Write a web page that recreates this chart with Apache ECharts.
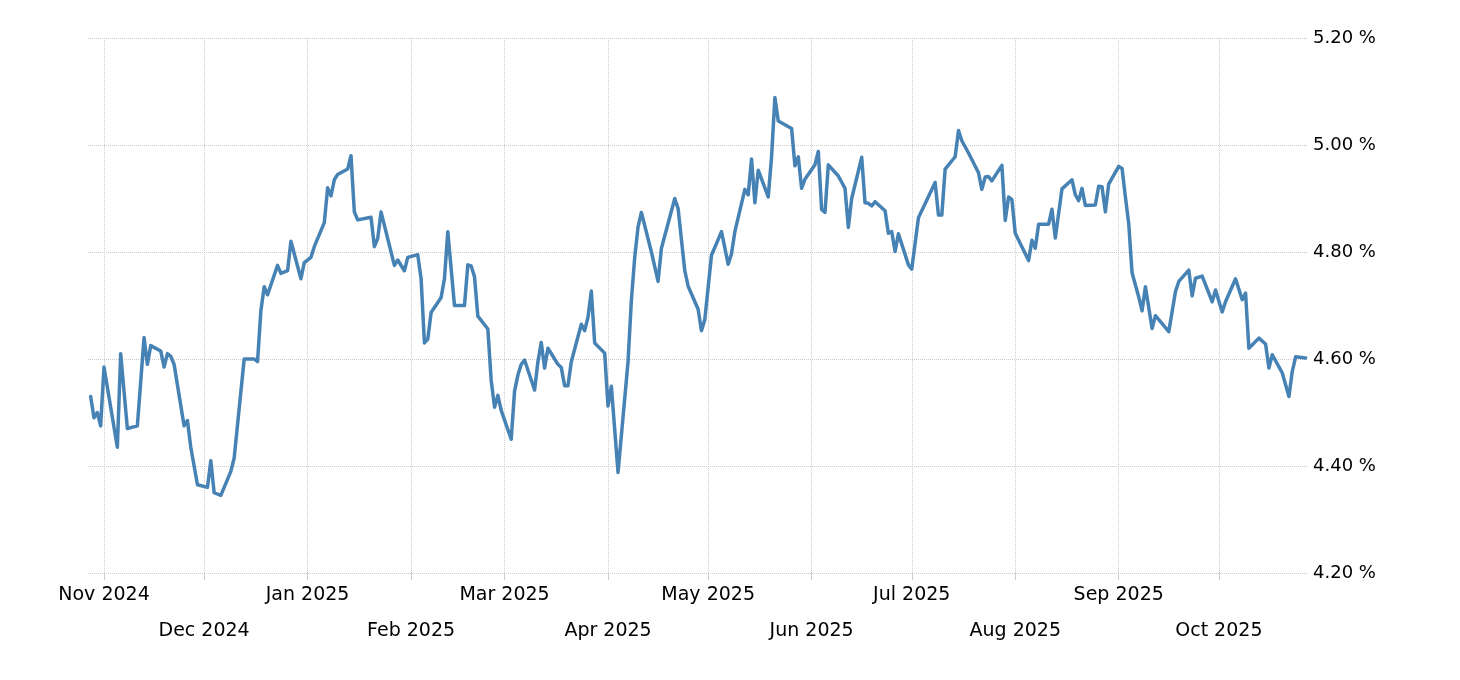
<!DOCTYPE html>
<html>
<head>
<meta charset="utf-8">
<script src="https://cdn.jsdelivr.net/npm/echarts@6/dist/echarts.min.js"></script>
<style>
html,body{margin:0;padding:0;background:#fff;}
#chart{width:1460px;height:680px;}
</style>
</head>
<body>
<div id="chart"></div>
<script>
const dates = [
'2024-10-28','2024-10-29','2024-10-30','2024-10-31','2024-11-01','2024-11-05','2024-11-06','2024-11-08','2024-11-11','2024-11-13',
'2024-11-14','2024-11-15','2024-11-18','2024-11-19','2024-11-20','2024-11-21','2024-11-22','2024-11-25','2024-11-26','2024-11-27',
'2024-11-29','2024-12-02','2024-12-03','2024-12-04','2024-12-06','2024-12-09','2024-12-10','2024-12-13','2024-12-16','2024-12-17',
'2024-12-18','2024-12-19','2024-12-20','2024-12-23','2024-12-24','2024-12-26','2024-12-27','2024-12-30','2024-12-31','2025-01-02',
'2025-01-03','2025-01-06','2025-01-07','2025-01-08','2025-01-09','2025-01-10','2025-01-13','2025-01-14','2025-01-15','2025-01-16',
'2025-01-20','2025-01-21','2025-01-22','2025-01-23','2025-01-27','2025-01-28','2025-01-30','2025-01-31','2025-02-03','2025-02-04',
'2025-02-05','2025-02-06','2025-02-07','2025-02-10','2025-02-11','2025-02-12','2025-02-14','2025-02-17','2025-02-18','2025-02-19',
'2025-02-20','2025-02-21','2025-02-24','2025-02-25','2025-02-26','2025-02-27','2025-02-28','2025-03-03','2025-03-04','2025-03-05',
'2025-03-06','2025-03-07','2025-03-10','2025-03-11','2025-03-12','2025-03-13','2025-03-14','2025-03-17','2025-03-18','2025-03-19',
'2025-03-20','2025-03-21','2025-03-24','2025-03-25','2025-03-26','2025-03-27','2025-03-28','2025-03-31','2025-04-01','2025-04-02',
'2025-04-04','2025-04-07','2025-04-08','2025-04-09','2025-04-10','2025-04-11','2025-04-14','2025-04-16','2025-04-17','2025-04-21',
'2025-04-22','2025-04-24','2025-04-25','2025-04-28','2025-04-29','2025-04-30','2025-05-02','2025-05-05','2025-05-07','2025-05-08',
'2025-05-09','2025-05-12','2025-05-13','2025-05-14','2025-05-15','2025-05-16','2025-05-19','2025-05-20','2025-05-21','2025-05-22',
'2025-05-26','2025-05-27','2025-05-28','2025-05-29','2025-05-30','2025-06-02','2025-06-03','2025-06-04','2025-06-05','2025-06-06',
'2025-06-09','2025-06-11','2025-06-12','2025-06-13','2025-06-16','2025-06-17','2025-06-18','2025-06-19','2025-06-20','2025-06-23',
'2025-06-24','2025-06-25','2025-06-26','2025-06-27','2025-06-30','2025-07-01','2025-07-03','2025-07-08','2025-07-09','2025-07-10',
'2025-07-11','2025-07-14','2025-07-15','2025-07-16','2025-07-18','2025-07-21','2025-07-22','2025-07-23','2025-07-24','2025-07-25',
'2025-07-28','2025-07-29','2025-07-30','2025-07-31','2025-08-01','2025-08-05','2025-08-06','2025-08-07','2025-08-08','2025-08-11',
'2025-08-12','2025-08-13','2025-08-15','2025-08-18','2025-08-19','2025-08-20','2025-08-21','2025-08-22','2025-08-25','2025-08-26',
'2025-08-27','2025-08-28','2025-08-29','2025-09-01','2025-09-02','2025-09-03','2025-09-04','2025-09-05','2025-09-07','2025-09-08',
'2025-09-09','2025-09-11','2025-09-12','2025-09-16','2025-09-18','2025-09-19','2025-09-22','2025-09-23','2025-09-24','2025-09-26',
'2025-09-29','2025-09-30','2025-10-02','2025-10-03','2025-10-06','2025-10-08','2025-10-09','2025-10-10','2025-10-13','2025-10-15',
'2025-10-16','2025-10-17','2025-10-20','2025-10-22','2025-10-23','2025-10-24','2025-10-27'
];
const yields = [
4.53,4.49,4.50,4.475,4.585,4.435,4.61,4.47,4.475,4.64,
4.59,4.625,4.615,4.585,4.61,4.605,4.59,4.475,4.485,4.435,
4.365,4.36,4.41,4.35,4.345,4.39,4.415,4.60,4.60,4.595,
4.69,4.735,4.72,4.775,4.76,4.765,4.82,4.75,4.78,4.79,
4.81,4.855,4.92,4.905,4.935,4.945,4.955,4.98,4.875,4.86,
4.865,4.81,4.825,4.875,4.775,4.785,4.765,4.79,4.795,4.75,
4.63,4.637,4.687,4.715,4.75,4.838,4.70,4.70,4.776,4.774,
4.754,4.68,4.656,4.56,4.51,4.532,4.504,4.45,4.54,4.57,
4.59,4.598,4.542,4.595,4.631,4.583,4.62,4.59,4.584,4.55,
4.55,4.595,4.665,4.653,4.678,4.727,4.63,4.611,4.512,4.549,
4.388,4.595,4.71,4.79,4.847,4.874,4.80,4.745,4.807,4.90,
4.881,4.765,4.736,4.693,4.653,4.674,4.794,4.838,4.777,4.797,
4.838,4.917,4.907,4.974,4.892,4.953,4.903,4.978,5.089,5.045,
5.031,4.961,4.978,4.919,4.936,4.963,4.988,4.879,4.874,4.963,
4.942,4.919,4.846,4.90,4.977,4.892,4.891,4.886,4.894,4.877,
4.835,4.838,4.801,4.834,4.776,4.768,4.864,4.93,4.869,4.869,
4.955,4.978,5.027,5.008,4.985,4.948,4.917,4.94,4.941,4.933,
4.962,4.859,4.903,4.898,4.835,4.784,4.822,4.807,4.852,4.852,
4.88,4.826,4.918,4.935,4.907,4.896,4.919,4.887,4.888,4.923,
4.922,4.875,4.927,4.96,4.956,4.903,4.853,4.761,4.716,4.69,
4.735,4.657,4.681,4.651,4.726,4.745,4.766,4.718,4.751,4.755,
4.707,4.729,4.688,4.707,4.75,4.711,4.723,4.62,4.639,4.628,
4.583,4.608,4.574,4.53,4.577,4.604,4.602
];
const monthStarts = ['2024-11-01','2024-12-01','2025-01-01','2025-02-01','2025-03-01','2025-04-01',
'2025-05-01','2025-06-01','2025-07-01','2025-08-01','2025-09-01','2025-10-01'];
const monthLabels = ['Nov 2024','Dec 2024','Jan 2025','Feb 2025','Mar 2025','Apr 2025',
'May 2025','Jun 2025','Jul 2025','Aug 2025','Sep 2025','Oct 2025'];
const yTicks = [4.2, 4.4, 4.6, 4.8, 5.0, 5.2];

function toTs(s){ const p = s.split('-'); return new Date(+p[0], +p[1]-1, +p[2]).getTime(); }
const monthTs = monthStarts.map(toTs);
const seriesData = dates.map((d,i)=>[toTs(d), yields[i]]);
const xMin = toTs('2024-10-27') + 5*3600*1000;
const xMax = toTs('2025-10-27') + 17*3600*1000;

function nearestMonth(v){
  let best=0;
  for(let i=0;i<monthTs.length;i++){ if(Math.abs(monthTs[i]-v)<Math.abs(monthTs[best]-v)) best=i; }
  return best;
}

const chart = echarts.init(document.getElementById('chart'));
chart.setOption({
  animation:false,
  backgroundColor:'#ffffff',
  grid:{left:88, right:152, top:38, bottom:107, containLabel:false},
  xAxis:{
    type:'value', min:xMin, max:xMax, scale:true,
    axisLine:{show:false},
    axisTick:{show:true, length:7, customValues:monthTs, lineStyle:{color:'#cccccc', width:1}},
    splitLine:{show:true, lineStyle:{color:'#cccccc', type:'dotted', width:1}},
    axisLabel:{
      customValues:monthTs,
      showMinLabel:true, showMaxLabel:true,
      margin:4,
      fontFamily:'DejaVu Sans', fontSize:19, color:'#000', lineHeight:36,
      formatter:function(v){
        const idx = nearestMonth(v);
        return (idx % 2 === 1 ? '\n' : '') + monthLabels[idx];
      }
    }
  },
  yAxis:{
    type:'value', position:'right', min:yTicks[0], max:yTicks[yTicks.length-1], interval:0.2,
    axisLine:{show:false}, axisTick:{show:false},
    splitLine:{show:true, lineStyle:{color:'#cccccc', type:'dotted', width:1}},
    axisLabel:{margin:5, fontFamily:'DejaVu Sans', fontSize:18, color:'#000',
      formatter:function(v){ return v.toFixed(2) + ' %'; }}
  },
  series:[{
    type:'line', data:seriesData, showSymbol:false, symbol:'none',
    lineStyle:{color:'#4682b4', width:3.5, join:'round', cap:'round'},
    itemStyle:{color:'#4682b4'}
  }]
});
</script>
</body>
</html>
